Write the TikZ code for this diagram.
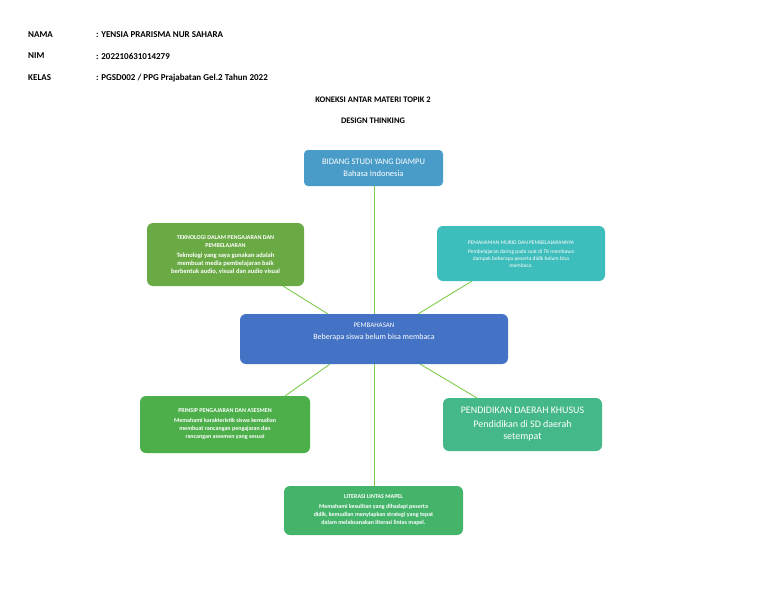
\documentclass[tikz,border=0pt]{standalone}
\usepackage{fontspec}
\setmainfont{Carlito}
\begin{document}
\begin{tikzpicture}[x=1pt,y=-1pt,
  box/.style={rounded corners=6pt,text=white,align=center,inner sep=3pt},
  conn/.style={draw=green!45!olive!70!white,line width=0.9pt},
  hdr/.style={anchor=west,font=\bfseries\fontsize{9}{11}\selectfont,inner sep=0}]
\useasboundingbox (0,0) rectangle (768,594);
\fill[white] (0,0) rectangle (768,594);
\definecolor{cblue}{HTML}{4A9CC8}
\definecolor{cgreen}{HTML}{6AAA44}
\definecolor{cteal}{HTML}{3DBDBB}
\definecolor{ccenter}{HTML}{4472C4}
\definecolor{cgreen2}{HTML}{4CAF4A}
\definecolor{cteal2}{HTML}{45B88A}
\definecolor{cgreen3}{HTML}{44B46A}
\node[hdr] (n1) at (28,35) {NAMA};
\node[hdr] (v1) at (96,35) {: YENSIA PRARISMA NUR SAHARA};
\node[hdr] (n2) at (28,56) {NIM};
\node[hdr] (v2) at (96,56) {: 202210631014279};
\node[hdr] (n3) at (28,78) {KELAS};
\node[hdr] (v3) at (96,78) {: PGSD002 / PPG Prajabatan Gel.2 Tahun 2022};
\node[font=\bfseries\fontsize{8.5}{10}\selectfont] (t1) at (373,100) {KONEKSI ANTAR MATERI TOPIK 2};
\node[font=\bfseries\fontsize{8.5}{10}\selectfont] (t2) at (373,121) {DESIGN THINKING};

\draw[conn] (374,186) -- (374,486);
\draw[conn] (283,286) -- (328,314);
\draw[conn] (472,281) -- (418,314);
\draw[conn] (330,364) -- (285,396);
\draw[conn] (420,364) -- (477,398);

\fill[cblue,rounded corners=4pt] (304,150) rectangle (443,186);
\node[text=white,font=\fontsize{8.5}{10}\selectfont,align=center] (top) at (373.5,168) {BIDANG STUDI YANG DIAMPU\\[2pt]Bahasa Indonesia};

\fill[cgreen,rounded corners=6pt] (147,223) rectangle (304,286);
\node[text=white,font=\bfseries\fontsize{6}{8}\selectfont,align=center] (tek) at (225.5,254.5) {TEKNOLOGI DALAM PENGAJARAN DAN\\PEMBELAJARAN\\[2pt]\fontsize{6.5}{8.5}\selectfont Teknologi yang saya gunakan adalah\\\fontsize{6.5}{8.5}\selectfont membuat media pembelajaran baik\\\fontsize{6.5}{8.5}\selectfont berbentuk audio, visual dan audio visual};

\fill[cteal,rounded corners=6pt] (437,226) rectangle (605,281);
\node[text=white,font=\fontsize{5.5}{7}\selectfont,align=center] (pem) at (521,254) {PEMAHAMAN MURID DAN PEMBELAJARANNYA\\[2pt]Pembelajaran daring pada saat di TK membawa\\dampak beberapa peserta didik belum bisa\\membaca.};

\fill[ccenter,rounded corners=6pt] (240,314) rectangle (508,364);
\node[text=white,font=\fontsize{7}{10}\selectfont,align=center] (c) at (374,332) {PEMBAHASAN\\[2pt]\fontsize{8}{10}\selectfont Beberapa siswa belum bisa membaca};

\fill[cgreen2,rounded corners=6pt] (140,396) rectangle (310,453);
\node[text=white,font=\bfseries\fontsize{6}{8}\selectfont,align=center] (pr) at (225,424) {PRINSIP PENGAJARAN DAN ASESMEN\\[2pt]Memahami karakteristik siswa kemudian\\membuat rancangan pengajaran dan\\rancangan asesmen yang sesuai};

\fill[cteal2,rounded corners=6pt] (443,398) rectangle (602,451);
\node[text=white,font=\fontsize{10}{12}\selectfont,align=center] (pd) at (522.5,424) {PENDIDIKAN DAERAH KHUSUS\\[2pt]Pendidikan di SD daerah\\setempat};

\fill[cgreen3,rounded corners=6pt] (284,486) rectangle (463,535);
\node[text=white,font=\bfseries\fontsize{6}{8}\selectfont,align=center] (lit) at (373.5,510) {LITERASI LINTAS MAPEL\\[2pt]Memahami kesulitan yang dihadapi peserta\\didik, kemudian menyiapkan strategi yang tepat\\dalam melaksanakan literasi lintas mapel.};
\end{tikzpicture}
\end{document}
